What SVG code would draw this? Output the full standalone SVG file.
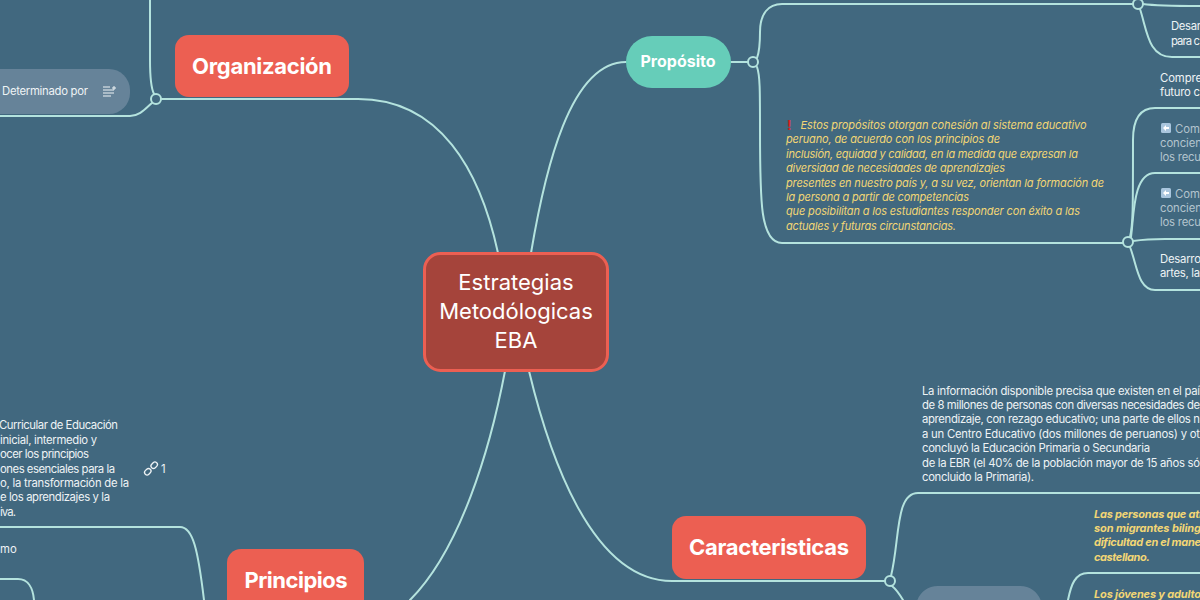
<svg xmlns="http://www.w3.org/2000/svg" width="1200" height="600" viewBox="0 0 1200 600">
<style>
text{font-family:"Inter","Liberation Sans",sans-serif}
.c{fill:none;stroke:#b4e3de;stroke-width:2;stroke-linecap:round}
.dot{fill:#41687f;stroke:#b4e3de;stroke-width:2}
.main{fill:#ec5f52}
.t1{fill:#fff;font-size:22px;font-weight:700;text-anchor:middle}
.b{fill:#eef3f5;font-size:11.3px}
.m{fill:#b3c4ce;font-size:11.3px}
.y{fill:#f2d675;font-size:11px;font-style:italic}
.yb{fill:#f2d675;font-size:11px;font-style:italic;font-weight:700}
</style>
<rect width="1200" height="600" fill="#41687f"/>
<g id="connectors">
<path class="c" d="M498 253C480 170 440 99 358 99H161"/>
<path class="c" d="M150 0V60C150 80 152 90 154 94"/>
<path class="c" d="M0 116H130C140 116 146 108 152 103"/>
<path class="c" d="M531 253C545 170 570 62 626 62"/>
<path class="c" d="M731 62H748"/>
<path class="c" d="M757 58C760 50 760 42 760 32C760 14 768 4 782 4H1133"/>
<path class="c" d="M757 67C760 75 760 90 760 130C760 200 760 243 782 243H1123"/>
<path class="c" d="M1143 4C1150 5 1165 6 1200 6"/>
<path class="c" d="M1140 9C1147 30 1148 57 1172 57H1200"/>
<path class="c" d="M1130 237C1133 225 1133 210 1133 140C1133 120 1140 108 1155 108H1200"/>
<path class="c" d="M1131 237C1134 215 1133 173 1155 173H1200"/>
<path class="c" d="M1133 241C1140 240 1150 239 1165 239H1200"/>
<path class="c" d="M1130 247C1137 265 1138 290 1155 290H1200"/>
<path class="c" d="M529 371C548 450 590 581 672 581H885"/>
<path class="c" d="M891 576C900 540 895 493 918 493H1200"/>
<path class="c" d="M892 586C897 590 900 595 903 600"/>
<path class="c" d="M1068 600C1071 585 1075 573 1088 573H1200"/>
<path class="c" d="M505 371C490 450 460 550 410 600"/>
<path class="c" d="M0 527H180C193 527 198 550 204 600"/>
<path class="c" d="M0 579H18C28 579 33 588 34 600"/>
</g>
<circle class="dot" cx="156" cy="99" r="5"/>
<circle class="dot" cx="753" cy="62" r="5"/>
<circle class="dot" cx="1138" cy="4" r="5"/>
<circle class="dot" cx="1128" cy="242" r="5"/>
<circle class="dot" cx="890" cy="581" r="5"/>
<g id="center">
<rect x="424.500" y="253.500" width="183" height="117" rx="16" fill="#a5443b" stroke="#ec5f52" stroke-width="3"/>
<text x="516" y="290" fill="#fff" font-size="22" text-anchor="middle">Estrategias</text>
<text x="516" y="319" fill="#fff" font-size="22" text-anchor="middle">Metodólogicas</text>
<text x="516" y="348" fill="#fff" font-size="22" text-anchor="middle">EBA</text>
</g>
<g id="organizacion">
<rect class="main" x="175" y="35" width="174" height="62" rx="14"/>
<text class="t1" x="262" y="74" textLength="140">Organización</text>
</g>
<g id="determinado">
<rect x="-20" y="69" width="150" height="45" rx="21" fill="#668399"/>
<text class="b" x="2" y="95" textLength="86">Determinado por</text>
<path d="M103 87h7M103 90h11M103 93h11M103 96h8" stroke="#eef3f5" stroke-width="1.200" fill="none"/>
<path d="M112 88h4M114 86v4" stroke="#eef3f5" stroke-width="1" fill="none"/>
</g>
<g id="proposito">
<rect x="626" y="36" width="105" height="52" rx="26" fill="#66cdb9"/>
<text x="678" y="67" fill="#fff" font-size="16" font-weight="700" text-anchor="middle">Propósito</text>
</g>
<g id="caracteristicas">
<rect class="main" x="672" y="516" width="194" height="63" rx="14"/>
<text class="t1" x="769" y="555" textLength="160">Caracteristicas</text>
</g>
<g id="principios">
<rect class="main" x="227" y="549" width="137" height="64" rx="14"/>
<text class="t1" x="296" y="588" textLength="103">Principios</text>
</g>
<g id="nota">
<text x="787" y="130" fill="#d22" font-size="13" font-weight="700">!</text>
<text class="y" x="800.500" y="129" textLength="286">Estos propósitos otorgan cohesión al sistema educativo</text>
<text class="y" x="786" y="143" textLength="214">peruano, de acuerdo con los principios de</text>
<text class="y" x="786" y="158" textLength="292">inclusión, equidad y calidad, en la medida que expresan la</text>
<text class="y" x="786" y="172" textLength="219">diversidad de necesidades de aprendizajes</text>
<text class="y" x="786" y="187" textLength="318">presentes en nuestro país y, a su vez, orientan la formación de</text>
<text class="y" x="786" y="201" textLength="183">la persona a partir de competencias</text>
<text class="y" x="786" y="215" textLength="294">que posibilitan a los estudiantes responder con éxito a las</text>
<text class="y" x="786" y="230" textLength="170">actuales y futuras circunstancias.</text>
</g>
<g id="derecha-proposito">
<text class="b" x="1171" y="30" textLength="30">Desar</text>
<text class="b" x="1171" y="45" textLength="29">para c</text>
<text class="b" x="1160" y="82" textLength="42">Compre</text>
<text class="b" x="1160" y="96" textLength="40">futuro c</text>
<rect x="1161" y="123" width="10" height="10" rx="1.500" fill="#a9c6de"/>
<path d="M1163 128l3-3v2h3v2h-3v2z" fill="#fff"/>
<text class="m" x="1175" y="133">Com</text>
<text class="m" x="1160" y="147" textLength="42">concien</text>
<text class="m" x="1160" y="161" textLength="41">los recu</text>
<rect x="1161" y="188" width="10" height="10" rx="1.500" fill="#a9c6de"/>
<path d="M1163 193l3-3v2h3v2h-3v2z" fill="#fff"/>
<text class="m" x="1175" y="198">Com</text>
<text class="m" x="1160" y="212" textLength="42">concien</text>
<text class="m" x="1160" y="226" textLength="41">los recu</text>
<text class="b" x="1160" y="263" textLength="41">Desarro</text>
<text class="b" x="1160" y="277" textLength="40">artes, la</text>
</g>
<g id="info">
<text class="b" x="922" y="395" textLength="278">La información disponible precisa que existen en el paí</text>
<text class="b" x="922" y="409" textLength="278">de 8 millones de personas con diversas necesidades de</text>
<text class="b" x="922" y="423" textLength="278">aprendizaje, con rezago educativo; una parte de ellos n</text>
<text class="b" x="922" y="438" textLength="278">a un Centro Educativo (dos millones de peruanos) y ot</text>
<text class="b" x="922" y="452" textLength="228">concluyó la Educación Primaria o Secundaria</text>
<text class="b" x="922" y="467" textLength="278">de la EBR (el 40% de la población mayor de 15 años só</text>
<text class="b" x="922" y="481" textLength="112">concluido la Primaria).</text>
</g>
<g id="personas">
<text class="yb" x="1094" y="518" textLength="108">Las personas que ati</text>
<text class="yb" x="1094" y="532" textLength="107">son migrantes biling</text>
<text class="yb" x="1094" y="546" textLength="107">dificultad en el mane</text>
<text class="yb" x="1094" y="561" textLength="56">castellano.</text>
<text class="yb" x="1094" y="598" textLength="107">Los jóvenes y adulto</text>
</g>
<g id="pill-caracteristicas">
<path d="M916 600V608C916 596 925 586 938 586H1020C1033 586 1042 596 1042 608V600Z" fill="#668399"/>
</g>
<g id="curricular">
<text class="b" x="-1" y="429" textLength="119">Curricular de Educación</text>
<text class="b" x="0" y="444" textLength="97">inicial, intermedio y</text>
<text class="b" x="0" y="458" textLength="89">ocer los principios</text>
<text class="b" x="0" y="473" textLength="115">ones esenciales para la</text>
<text class="b" x="0" y="487" textLength="129">o, la transformación de la</text>
<text class="b" x="0" y="501" textLength="110">e los aprendizajes y la</text>
<text class="b" x="0" y="516" textLength="16">iva.</text>
<text class="b" x="0" y="553">mo</text>
<g fill="none" stroke="#eef3f5" stroke-width="1.300">
<rect x="-4.500" y="-2.500" width="7" height="5" rx="2.500" transform="translate(148.500 471) rotate(-45)"/>
<rect x="-2.500" y="-2.500" width="7" height="5" rx="2.500" transform="translate(153.500 466) rotate(-45)"/>
</g>
<text class="b" x="161" y="473">1</text>
</g>
</svg>
